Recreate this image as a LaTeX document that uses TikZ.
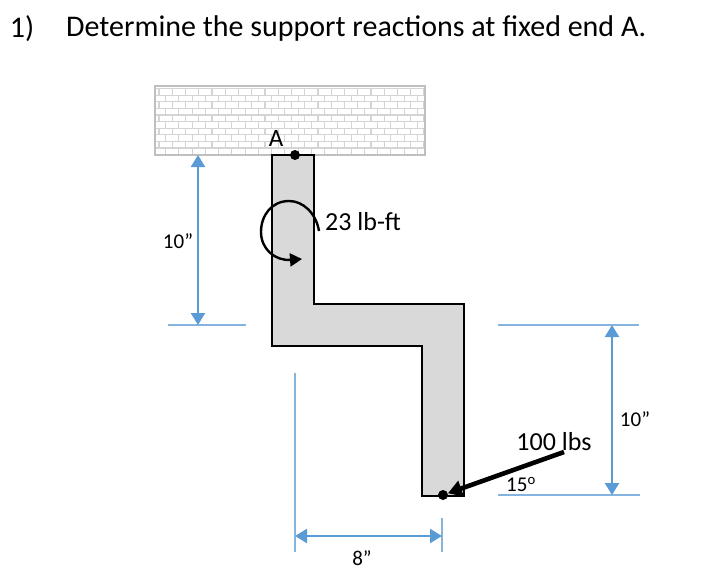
\documentclass[tikz,border=0pt]{standalone}
\usepackage{fontspec}
\setmainfont{Carlito}
\usetikzlibrary{arrows.meta}
\definecolor{dimblue}{HTML}{5B9BD5}
\definecolor{partgray}{HTML}{D9D9D9}
\definecolor{wallgray}{HTML}{BFBFBF}
\definecolor{mortar}{HTML}{D4D4D4}
\tikzset{
  dimline/.style={color=dimblue!75,line width=1.2pt},
  dimarrow/.style={color=dimblue,line width=2.4pt,{Triangle[length=12pt,width=14pt]}-{Triangle[length=12pt,width=14pt]}},
  txt/.style={inner sep=0pt,anchor=center,text=black},
  pin/.style={circle,fill=black,inner sep=0pt,minimum size=10pt}
}
\begin{document}
\begin{tikzpicture}[x=1pt,y=-1pt]
\useasboundingbox (0,0) rectangle (722,573);
% title
\node[txt,font=\fontsize{30}{33}\selectfont] (num) at (22,28.5) {1)};
\node[txt,font=\fontsize{30}{33}\selectfont,anchor=west] (title) at (66,28.5) {Determine the support reactions at fixed end A.};
% wall
\coordinate (wa) at (155,86);
\coordinate (wb) at (425,155);
\begin{scope}
\clip (wa) rectangle (wb);
\foreach \r in {0,...,10}{
  \pgfmathsetmacro{\yy}{88.5+\r*6.6}
  \draw[mortar,line width=1.2pt] (155,\yy) -- (425,\yy);
  \pgfmathsetmacro{\off}{mod(\r,2)==0 ? 0 : 6.6}
  \foreach \c in {0,...,21}{
    \pgfmathsetmacro{\xx}{159+\off+\c*13.25}
    \pgfmathsetmacro{\ye}{\yy+6.6}
    \draw[mortar,line width=1.2pt] (\xx,\yy) -- (\xx,\ye);
  }
}
\end{scope}
\draw[wallgray,line width=2pt] (wa) rectangle (wb);
% part
\draw[fill=partgray,draw=black,line width=2pt]
  (272,155) -- (314,155) -- (314,304) -- (464,304) -- (464,496) -- (422,496) -- (422,346) -- (272,346) -- cycle;
\node[pin] (A) at (295,155) {};
\node[txt,font=\fontsize{25}{28}\selectfont] (Alab) at (276,138) {A};
% moment
\coordinate (ms) at (319,231);
\coordinate (me) at (302,259);
\draw[line width=2.4pt,-{Triangle[length=12pt,width=13pt]}] (ms) .. controls (316,213) and (303,201) .. (289,201) .. controls (272,201) and (261,215) .. (261,232) .. controls (261,249) and (275,261) .. (me);
\node[txt,font=\fontsize{26}{28}\selectfont,anchor=west] (mlab) at (325,222) {23 lb-ft};
% left dim
\coordinate (l1) at (168,325);
\coordinate (l2) at (246,325);
\coordinate (lt) at (198,155);
\coordinate (lb) at (198,325);
\draw[dimline] (l1) -- (l2);
\draw[dimarrow] (lt) -- (lb);
\node[txt,font=\fontsize{21}{24}\selectfont] (ld) at (178,241) {10”};
% right dim
\coordinate (r1) at (498,325);
\coordinate (r2) at (639,325);
\coordinate (r3) at (498,495);
\coordinate (r4) at (640,495);
\coordinate (rt) at (612,325);
\coordinate (rb) at (612,495);
\draw[dimline] (r1) -- (r2);
\draw[dimline] (r3) -- (r4);
\draw[dimarrow] (rt) -- (rb);
\node[txt,font=\fontsize{21}{24}\selectfont] (rd) at (635,419) {10”};
% bottom dim
\coordinate (b1) at (295,373);
\coordinate (b2) at (295,552);
\coordinate (b3) at (442,518);
\coordinate (b4) at (442,552);
\coordinate (bl) at (295,536);
\coordinate (br) at (442,536);
\draw[dimline] (b1) -- (b2);
\draw[dimline] (b3) -- (b4);
\draw[dimarrow] (bl) -- (br);
\node[txt,font=\fontsize{21}{24}\selectfont] (bd) at (362,558) {8”};
% force
\node[pin] (P) at (443,495) {};
\coordinate (Fs) at (564,452);
\draw[line width=4.6pt,-{Triangle[length=14pt,width=16pt]}] (Fs) -- (P);
\node[txt,font=\fontsize{26}{28}\selectfont] (flab) at (554,441.5) {100 lbs};
\node[txt,font=\fontsize{21}{24}\selectfont] (ang) at (521,484.5) {15\textsuperscript{o}};
\end{tikzpicture}
\end{document}
